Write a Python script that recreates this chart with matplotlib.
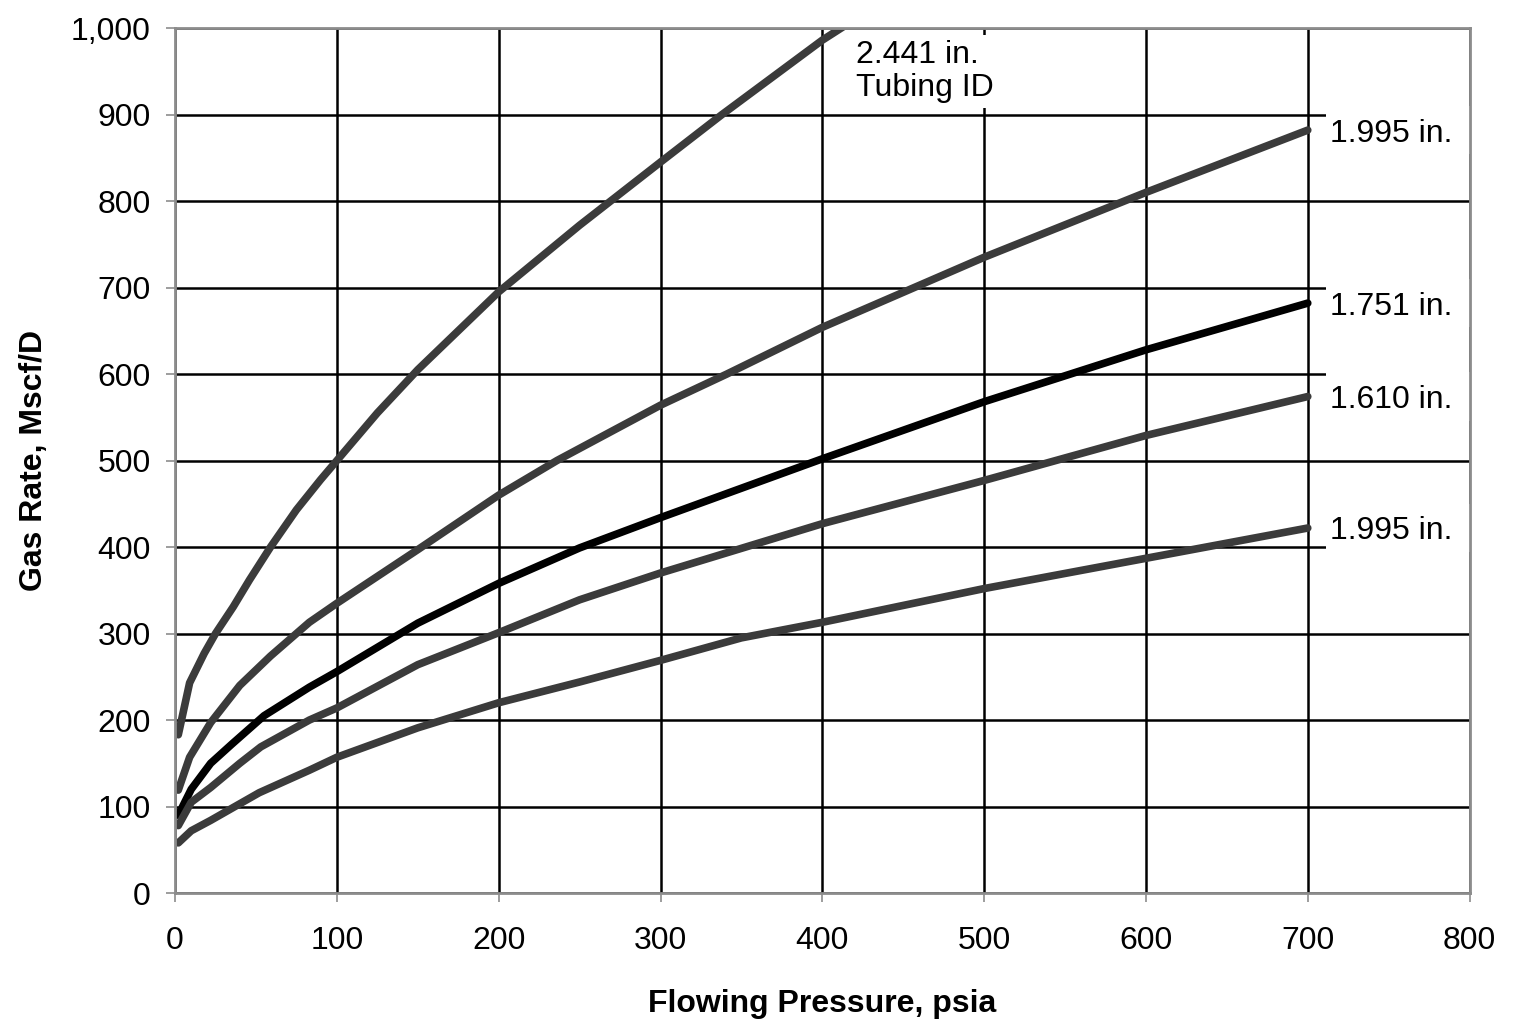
import matplotlib
matplotlib.use('Agg')
import matplotlib.pyplot as plt
from matplotlib.patches import Rectangle
from matplotlib.ticker import FuncFormatter

# flowing pressure (psia) and gas rate (Mscf/D)
p_2441 = [2, 9, 18, 25, 36, 46, 59, 75, 90, 100, 125, 150, 200, 250, 300, 338, 400, 420]
q_2441 = [183, 243, 277, 300, 331, 362, 400, 443, 478, 500, 555, 605, 695, 772, 845, 900, 986, 1010]

p_1995a = [2, 9, 22, 40, 59, 83, 100, 150, 200, 236, 300, 341, 400, 500, 600, 700]
q_1995a = [119, 157, 197, 240, 274, 313, 335, 397, 460, 500, 564, 600, 654, 735, 810, 882]

p_1751 = [2, 10, 22, 35, 55, 83, 100, 150, 200, 250, 300, 400, 500, 600, 700]
q_1751 = [90, 120, 150, 172, 205, 238, 256, 312, 358, 399, 434, 502, 568, 628, 682]

p_1610 = [2, 10, 22, 40, 53, 83, 100, 150, 200, 250, 300, 400, 500, 600, 700]
q_1610 = [78, 105, 122, 150, 169, 200, 214, 264, 301, 339, 370, 427, 477, 529, 574]

p_1995b = [2, 10, 22, 52, 83, 100, 150, 200, 250, 300, 350, 400, 500, 600, 700]
q_1995b = [58, 72, 84, 116, 142, 157, 191, 220, 244, 269, 295, 313, 352, 387, 422]

x_ticks = [0, 100, 200, 300, 400, 500, 600, 700, 800]
y_ticks = [0, 100, 200, 300, 400, 500, 600, 700, 800, 900, 1000]

plt.rcParams['font.family'] = ['Liberation Sans', 'DejaVu Sans']
plt.rcParams['font.size'] = 23

GRAY = '#3b3b3b'
FRAME = '#8c8c8c'


def main():
    fig = plt.figure(figsize=(15.13, 10.31), dpi=100)
    ax = fig.add_axes([0.1157, 0.1338, 0.8556, 0.839])

    style = dict(lw=5.5, solid_capstyle='round', solid_joinstyle='round')
    ax.plot(p_2441, q_2441, color=GRAY, **style)
    ax.plot(p_1995a, q_1995a, color=GRAY, **style)
    ax.plot(p_1751, q_1751, color='black', **style)
    ax.plot(p_1610, q_1610, color=GRAY, **style)
    ax.plot(p_1995b, q_1995b, color=GRAY, **style)

    ax.set_xlim(0, 800)
    ax.set_ylim(0, 1000)
    ax.set_xticks(x_ticks)
    ax.set_yticks(y_ticks)
    ax.yaxis.set_major_formatter(FuncFormatter(lambda v, _: f'{v:,.0f}'))

    ax.set_axisbelow(True)
    ax.grid(True, color='black', lw=1.8)
    for s in ax.spines.values():
        s.set_color(FRAME)
        s.set_linewidth(2)
    ax.tick_params(axis='both', direction='out', length=6.5, width=1.2, color=FRAME)
    ax.tick_params(axis='x', pad=17)
    ax.tick_params(axis='y', pad=11)

    ax.set_xlabel('Flowing Pressure, psia', fontweight='bold', labelpad=24)
    ax.set_ylabel('Gas Rate, Mscf/D', fontweight='bold', labelpad=16)

    # end labels sit on white patches that hide the grid up to the frame
    for lbl, q in [('1.995 in.', q_1995a), ('1.751 in.', q_1751),
                   ('1.610 in.', q_1610), ('1.995 in.', q_1995b)]:
        y = q[-1]
        ax.add_patch(Rectangle((711, y - 28), 89, 56, fc='white', ec='none', zorder=1))
        ax.text(714, y - 4, lbl, ha='left', va='center')

    ax.text(421, 950, '2.441 in.\nTubing ID', ha='left', va='center',
            linespacing=1.15,
            bbox=dict(boxstyle='square,pad=0.15', fc='white', ec='none'))

    fig.savefig('out.png', dpi=100)


if __name__ == '__main__':
    main()
